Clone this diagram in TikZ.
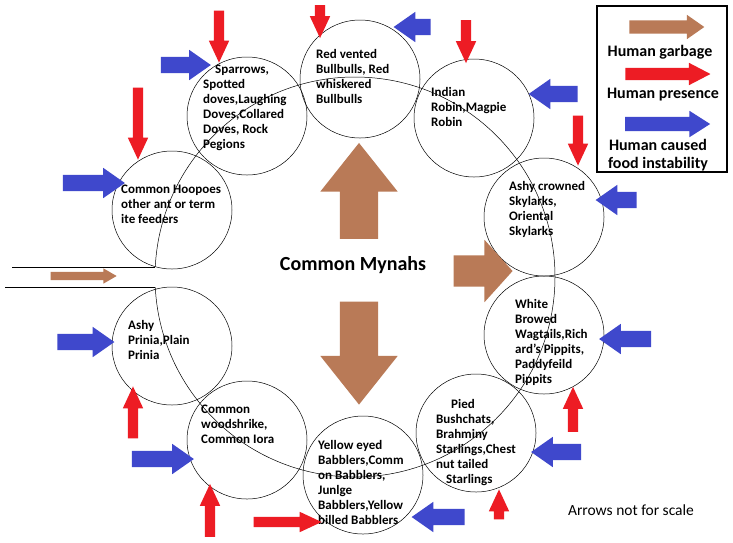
\documentclass[tikz,border=0pt]{standalone}
\usepackage{fontspec}
\setmainfont{Carlito}
\usetikzlibrary{shapes.arrows}
\usetikzlibrary{positioning}

\definecolor{garbage}{RGB}{185,122,87}
\definecolor{presence}{RGB}{237,28,36}
\definecolor{instab}{RGB}{63,72,204}

\tikzset{
  habitat/.style={draw,line width=0.5pt,ellipse,minimum width=120pt,minimum height=118pt},
  birds/.style={anchor=north west,align=left,inner sep=0pt,font=\fontsize{13}{15}\selectfont\bfseries},
  arr/.style 2 args={single arrow,draw=none,inner xsep=0pt,inner ysep=#1,single arrow head extend=#2,single arrow head indent=0pt},
  redarr/.style={arr={5pt}{5pt},fill=presence,single arrow tip angle=50},
  bluearr/.style={arr={8pt}{7pt},fill=instab,single arrow tip angle=70},
  bigarr/.style={arr={19pt}{19.5pt},fill=garbage,single arrow tip angle=77},
  legtext/.style={font=\fontsize{16}{18}\selectfont\bfseries,align=center}
}
\usetikzlibrary{shapes.geometric}

\begin{document}
\begin{tikzpicture}[x=1pt,y=-1pt]
  \useasboundingbox[fill=white] (0,0) rectangle (733,542);

  % habitats
  \node[habitat] (spar) at (247,116) {};
  \node[habitat] (bulb) at (360,79) {};
  \node[habitat] (robin) at (474,118) {};
  \node[habitat] (hoop) at (172,210) {};
  \node[habitat] (lark) at (544,217) {};
  \node[habitat] (prin) at (172,346) {};
  \node[habitat] (wag) at (544,335) {};
  \node[habitat] (shrike) at (247,440) {};
  \node[habitat] (babb) at (363,475) {};
  \node[habitat] (chat) at (476,433) {};

  \draw[line width=0.5pt] (355,277) ++(183:200) arc (183:537:200);
  \draw[line width=0.5pt] (12,267) -- (155,267);
  \draw[line width=0.5pt] (5,287) -- (155,287);

  \node[birds] (tspar) at (203,65) {\hspace{12pt}Sparrows,\\Spotted\\doves,Laughing\\Doves,Collared\\Doves, Rock\\Pegions};
  \node[birds] (tbulb) at (316,49) {Red vented\\Bullbulls, Red\\whiskered\\Bullbulls};
  \node[birds] (trobin) at (431,87) {Indian\\Robin,Magpie\\Robin};
  \node[birds] (thoop) at (121,185) {Common Hoopoes\\other ant or term\\ite feeders};
  \node[birds] (tlark) at (509,181) {Ashy crowned\\Skylarks,\\Oriental\\Skylarks};
  \node[birds] (twag) at (515,299) {White\\Browed\\Wagtails,Rich\\ard's Pippits,\\Paddyfeild\\Pippits};
  \node[birds] (tprin) at (128,320) {Ashy\\Prinia,Plain\\Prinia};
  \node[birds] (tshrike) at (201,405) {Common\\woodshrike,\\Common Iora};
  \node[birds] (tbabb) at (318,440) {Yellow eyed\\Babblers,Comm\\on Babblers,\\Junlge\\Babblers,Yellow\\billed Babblers};
  \node[birds] (tchat) at (436,399) {\hspace{15pt}Pied\\Bushchats,\\Brahminy\\Starlings,Chest\\nut tailed\\\hspace{10pt}Starlings};

  \node[font=\fontsize{20}{24}\selectfont\bfseries] (myna) at (353,265) {Common Mynahs};

  % human garbage
  \node[bigarr,rotate=90,minimum height=96pt] (gup) at (359,203) {};
  \node[bigarr,rotate=-90,minimum height=103pt] (gdown) at (359,341) {};
  \node[arr={15.5pt}{15.5pt},fill=garbage,minimum height=59pt,single arrow tip angle=96] (gright) at (476,271) {};
  \node[arr={4pt}{3.5pt},fill=garbage,minimum height=66pt,single arrow tip angle=60] (gin) at (80,276) {};

  % human presence
  \node[redarr,rotate=-90,minimum height=52pt] (p1) at (219,31) {};
  \node[redarr,rotate=-90,minimum height=33pt] (p2) at (320,16) {};
  \node[redarr,rotate=-90,minimum height=43pt] (p3) at (466,36) {};
  \node[redarr,rotate=-90,minimum height=72pt] (p4) at (138,118) {};
  \node[redarr,rotate=-90,minimum height=50pt] (p5) at (578,135) {};
  \node[redarr,rotate=90,minimum height=52pt] (p6) at (133,418) {};
  \node[redarr,rotate=90,minimum height=53pt] (p7) at (210,516) {};
  \node[redarr,rotate=90,minimum height=45pt] (p8) at (573,415) {};
  \node[redarr,rotate=90,minimum height=30pt] (p9) at (499,510) {};
  \node[redarr,rotate=0,minimum height=68pt] (p10) at (282,522) {};

  % food instability
  \node[bluearr,minimum height=50pt] (f1) at (180,65) {};
  \node[bluearr,minimum height=62pt] (f2) at (88,183) {};
  \node[bluearr,minimum height=57pt] (f3) at (80,342) {};
  \node[bluearr,minimum height=62pt] (f4) at (157,459) {};
  \node[bluearr,rotate=180,minimum height=37pt] (f5) at (418,27) {};
  \node[bluearr,rotate=180,minimum height=49pt] (f6) at (559,94) {};
  \node[bluearr,rotate=180,minimum height=41pt] (f7) at (622,200) {};
  \node[bluearr,rotate=180,minimum height=52pt] (f8) at (631,339) {};
  \node[bluearr,rotate=180,minimum height=50pt] (f9) at (562,452) {};
  \node[bluearr,rotate=180,minimum height=53pt] (f10) at (444,517) {};

  % legend
  \draw[line width=2.5pt] (597,6) rectangle (727,172);
  \node[arr={6.5pt}{5.5pt},fill=garbage,minimum height=75pt,single arrow tip angle=70] (lg) at (662,27) {};
  \node[legtext] (lgt) at (660,52) {Human garbage};
  \node[arr={6pt}{5pt},fill=presence,minimum height=85pt,single arrow tip angle=55] (lp) at (662,74) {};
  \node[legtext] (lpt) at (663,95) {Human presence};
  \node[arr={7pt}{6pt},fill=instab,minimum height=85pt,single arrow tip angle=65] (li) at (662,124) {};
  \node[legtext] (lit) at (658,155) {Human caused\\food instability};

  \node[font=\fontsize{15.5}{18}\selectfont] (note) at (631,510) {Arrows not for scale};
\end{tikzpicture}
\end{document}
